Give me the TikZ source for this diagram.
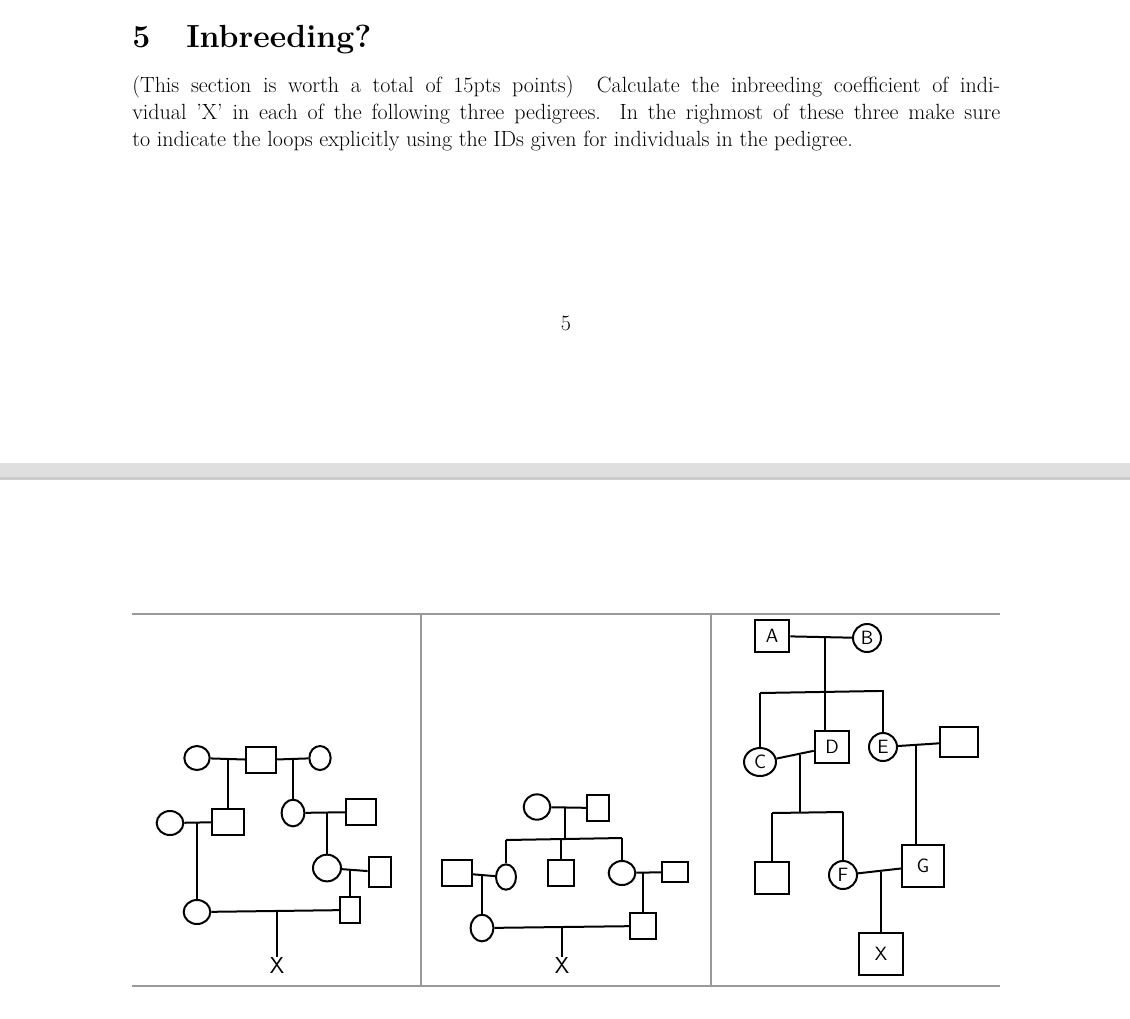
\documentclass[tikz,border=0pt]{standalone}
\usetikzlibrary{shapes.geometric}
\begin{document}
\begin{tikzpicture}[x=0.75pt,y=-0.75pt,
  ln/.style={line width=1.5pt,black},
  sqa/.style={draw,ln,rectangle,minimum width=22pt,minimum height=20pt,inner sep=0pt},
  cia/.style={draw,ln,ellipse,minimum width=19pt,minimum height=18pt,inner sep=0pt},
  sqb/.style={draw,ln,rectangle,minimum width=26pt,minimum height=24pt,inner sep=0pt,font=\sffamily\Large},
  cib/.style={draw,ln,ellipse,minimum width=21pt,minimum height=21pt,inner sep=0pt,font=\sffamily\Large},
  xl/.style={font=\sffamily\LARGE,inner sep=0pt},
  frame/.style={draw=gray!80,line width=1pt}]
\useasboundingbox (0,0) rectangle (1130,1018);
% page text
\node[anchor=base west,font=\fontsize{24}{29}\selectfont\bfseries,inner sep=0pt] (head) at (132,47) {5\hspace{27pt}Inbreeding?};
\node[anchor=north west,inner sep=0pt,text width=651pt,align=justify,font=\fontsize{16.5}{20.2}\selectfont] (para) at (132,76)
 {(This section is worth a total of 15pts points)\ \ Calculate the inbreeding coefficient of indi-\linebreak vidual 'X' in each of the following three pedigrees. In the righmost of these three make sure\linebreak to indicate the loops explicitly using the IDs given for individuals in the pedigree.};
\node[font=\fontsize{16.5}{20}\selectfont,inner sep=0pt] (pnum) at (566,323) {5};
% gray bar
\fill[gray!25] (0,463) rectangle (1130,480);
\fill[gray!40] (0,477) rectangle (1130,480);
% frames
\draw[frame] (132,614) -- (1000,614);
\draw[frame] (132,986) -- (1000,986);
\draw[frame] (421,614) -- (421,986);
\draw[frame] (711,614) -- (711,986);
% ---------- pedigree 1
\node[cia] (a1) at (197,758) {};
\node[sqa] (a2) at (261,760) {};
\node[cia,minimum width=16pt] (a3) at (320,758) {};
\node[cia,minimum width=20pt] (a4) at (170,823) {};
\node[sqa,minimum width=24pt] (a5) at (228,822) {};
\node[cia,minimum width=17pt,minimum height=20pt] (a6) at (293,813) {};
\node[sqa] (a7) at (361,812) {};
\node[cia,minimum width=21pt,minimum height=20pt] (a8) at (327,868) {};
\node[sqa,minimum width=17pt,minimum height=22pt] (a9) at (380,872) {};
\node[cia,minimum width=20pt] (a10) at (197,912) {};
\node[sqa,minimum width=15pt] (a11) at (350,910) {};
\node[xl] (ax) at (277,965) {X};
\draw[ln] (a1) -- (a2); \coordinate (m1) at (228,759); \draw[ln] (a5.north) |- (m1);
\draw[ln] (a2) -- (a3); \coordinate (m2) at (293,759); \draw[ln] (a6.north) |- (m2);
\draw[ln] (a4) -- (a5); \coordinate (m3) at (197,822); \draw[ln] (a10.north) |- (m3);
\draw[ln] (a6) -- (a7); \coordinate (m4) at (327,812); \draw[ln] (a8.north) |- (m4);
\draw[ln] (a8) -- (a9); \coordinate (m5) at (350,869); \draw[ln] (a11.north) |- (m5);
\draw[ln] (a10) -- (a11); \coordinate (m6) at (277,911); \draw[ln] (ax.north) |- (m6);
% ---------- pedigree 2
\node[cia,minimum width=20pt,minimum height=19pt] (b1) at (537,807) {};
\node[sqa,minimum width=16pt] (b2) at (598,808) {};
\node[cia,minimum width=15pt,minimum height=19pt] (b3) at (506,877) {};
\node[sqa,minimum width=19pt] (b4) at (561,873) {};
\node[cia,minimum width=20pt] (b5) at (622,873) {};
\node[sqa] (b6) at (457,873) {};
\node[sqa,minimum width=19pt,minimum height=15pt] (b7) at (675,872) {};
\node[cia,minimum width=17pt,minimum height=20pt] (b8) at (482,928) {};
\node[sqa,minimum width=19pt] (b9) at (643,926) {};
\node[xl] (bx) at (562,965) {X};
\draw[ln] (b1) -- (b2); \coordinate (n1) at (565,807); \coordinate (s1) at (565,839);
\draw[ln] (n1) -- (s1);
\coordinate (s1l) at (506,840); \coordinate (s1r) at (622,838);
\draw[ln] (s1l) -- (s1r);
\draw[ln] (b3.north) |- (s1l); \draw[ln] (b4.north) |- (s1); \draw[ln] (b5.north) |- (s1r);
\draw[ln] (b6) -- (b3); \coordinate (n2) at (482,874); \draw[ln] (b8.north) |- (n2);
\draw[ln] (b5) -- (b7); \coordinate (n3) at (643,872); \draw[ln] (b9.north) |- (n3);
\draw[ln] (b8) -- (b9); \coordinate (n4) at (562,927); \draw[ln] (bx.north) |- (n4);
% ---------- pedigree 3
\node[sqb] (A) at (772,636) {A};
\node[cib] (B) at (867,638) {B};
\node[cib,minimum width=24pt] (C) at (760,762) {C};
\node[sqb] (D) at (832,747) {D};
\node[cib] (E) at (883,747) {E};
\node[sqb,minimum width=28pt,minimum height=22pt] (Em) at (959,742) {};
\node[sqb] (P) at (772,878) {};
\node[cib] (F) at (843,875) {F};
\node[sqb,minimum width=31pt,minimum height=31pt] (G) at (923,866) {G};
\node[sqb,minimum width=33pt,minimum height=31pt] (X) at (881,954) {X};
\draw[ln] (A) -- (B); \coordinate (p1) at (825,637); \coordinate (q1) at (825,692);
\draw[ln] (p1) -- (q1);
\coordinate (q1l) at (760,693); \coordinate (q1r) at (878,691);
\draw[ln] (q1l) -- (q1r);
\draw[ln] (C.north) |- (q1l); \draw[ln] (D.north -| q1) -- (q1); \draw[ln] (E.north) |- (q1r);
\draw[ln] (C) -- (D); \coordinate (p2) at (800,755); \coordinate (q2) at (800,812);
\draw[ln] (p2) -- (q2);
\coordinate (q2l) at (772,813); \coordinate (q2r) at (843,812);
\draw[ln] (q2l) -- (q2r);
\draw[ln] (P.north) |- (q2l); \draw[ln] (F.north) |- (q2r);
\draw[ln] (E) -- (Em); \coordinate (p3) at (916,744); \draw[ln] (p3) -- (G.north -| p3);
\draw[ln] (F) -- (G); \coordinate (p4) at (881,872); \draw[ln] (X.north) |- (p4);
\end{tikzpicture}
\end{document}
